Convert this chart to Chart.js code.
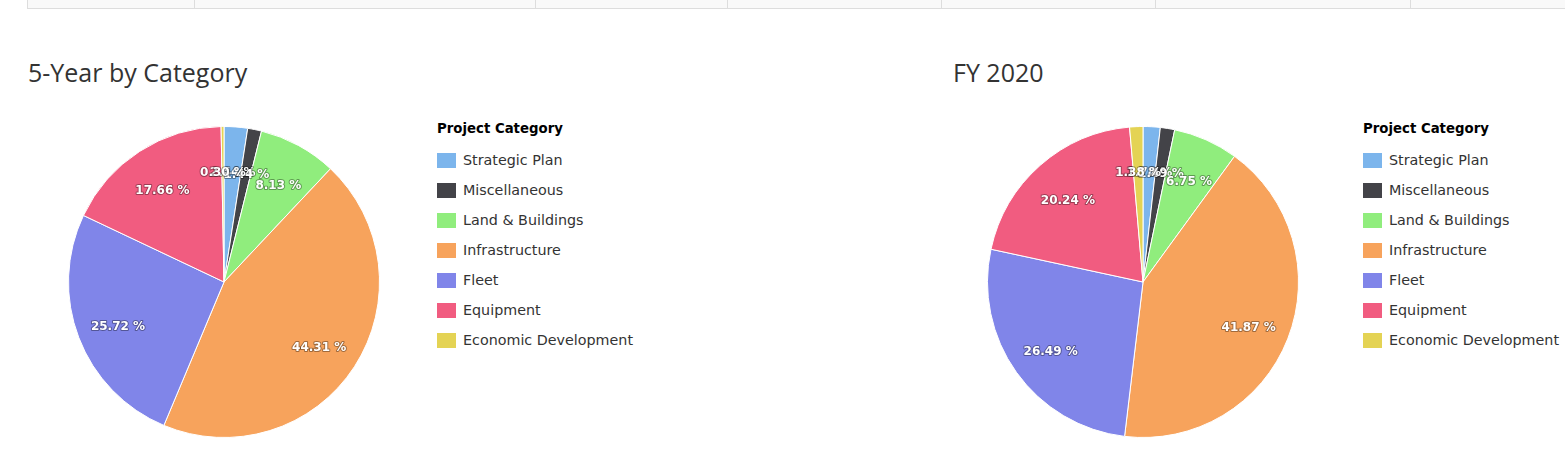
<!DOCTYPE html>
<html>
<head>
<meta charset="utf-8">
<script src="https://cdn.jsdelivr.net/npm/chart.js"></script>
<style>
  html, body { margin:0; padding:0; background:#fff; width:1565px; height:455px; overflow:hidden; }
  .tbl { position:absolute; left:27px; top:0; width:1538px; height:8px; background:#f9f9f9; border-bottom:1px solid #ddd; border-left:1px solid #ddd; }
  .tbl div { position:absolute; top:0; height:8px; border-left:1px solid #ddd; }
  .title { position:absolute; top:55px; font-family:"Open Sans", sans-serif; font-size:25px; color:#333; white-space:nowrap; }
  .pie { position:absolute; top:121px; width:322px; height:322px; }
  .legend { position:absolute; top:119px; font-family:"DejaVu Sans", Verdana, sans-serif; }
  .legend .lt { font-weight:bold; font-size:13.3px; color:#000; height:20px; line-height:20px; margin-bottom:13px; }
  .legend .it { height:30px; position:relative; font-size:14.3px; color:#333; white-space:nowrap; }
  .legend .sw { position:absolute; left:0; top:1px; width:19px; height:15px; }
  .legend .tx { position:absolute; left:26px; top:-1px; line-height:19px; }
</style>
</head>
<body>
<div class="tbl">
  <div style="left:166px"></div><div style="left:507px"></div><div style="left:699px"></div>
  <div style="left:913px"></div><div style="left:1127px"></div><div style="left:1382px"></div>
</div>

<div class="title" style="left:28px">5-Year by Category</div>
<div class="pie" style="left:63px"><canvas id="c1" width="322" height="322"></canvas></div>
<div class="legend" id="lg1" style="left:437px"></div>

<div class="title" style="left:953px">FY 2020</div>
<div class="pie" style="left:982px"><canvas id="c2" width="322" height="322"></canvas></div>
<div class="legend" id="lg2" style="left:1363px"></div>

<script>
const categories = ["Strategic Plan","Miscellaneous","Land & Buildings","Infrastructure","Fleet","Equipment","Economic Development"];
const colors = ["#7cb5ec","#434348","#90ed7d","#f7a35c","#8085e9","#f15c80","#e4d354"];
const fiveYearValues = [2.44, 1.44, 8.13, 44.31, 25.72, 17.66, 0.30];
const fy2020Values = [1.78, 1.49, 6.75, 41.87, 26.49, 20.24, 1.38];
const legendTitle = "Project Category";
const chartTitles = ["5-Year by Category", "FY 2020"];

const labelPlugin = {
  id: 'pctLabels',
  afterDatasetsDraw(chart) {
    const ctx = chart.ctx;
    const meta = chart.getDatasetMeta(0);
    const data = chart.data.datasets[0].data;
    ctx.save();
    ctx.font = 'bold 12px "DejaVu Sans", Verdana, sans-serif';
    ctx.textAlign = 'center';
    ctx.textBaseline = 'middle';
    ctx.lineJoin = 'round';
    meta.data.forEach((arc, i) => {
      const p = arc.getProps(['x','y','startAngle','endAngle','outerRadius'], true);
      const mid = (p.startAngle + p.endAngle) / 2;
      const r = p.outerRadius - 42;
      const x = p.x + Math.cos(mid) * r;
      const y = p.y + Math.sin(mid) * r + 4;
      const txt = data[i].toFixed(2) + ' %';
      ctx.strokeStyle = 'rgba(0,0,0,0.35)';
      ctx.lineWidth = 2;
      ctx.strokeText(txt, x, y);
      ctx.fillStyle = '#fff';
      ctx.fillText(txt, x, y);
    });
    ctx.restore();
  }
};

function makePie(id, values) {
  new Chart(document.getElementById(id), {
    type: 'pie',
    data: {
      labels: categories,
      datasets: [{ data: values, backgroundColor: colors, borderColor: '#fff', borderWidth: 1 }]
    },
    options: {
      responsive: false,
      animation: false,
      layout: { padding: 5 },
      plugins: { legend: { display: false }, tooltip: { enabled: false } }
    },
    plugins: [labelPlugin]
  });
}

function makeLegend(id) {
  const el = document.getElementById(id);
  let html = '<div class="lt">' + legendTitle + '</div>';
  categories.forEach((c, i) => {
    html += '<div class="it"><span class="sw" style="background:' + colors[i] + '"></span><span class="tx">' +
      c.replace('&', '&amp;') + '</span></div>';
  });
  el.innerHTML = html;
}

makePie('c1', fiveYearValues);
makePie('c2', fy2020Values);
makeLegend('lg1');
makeLegend('lg2');
</script>
</body>
</html>
